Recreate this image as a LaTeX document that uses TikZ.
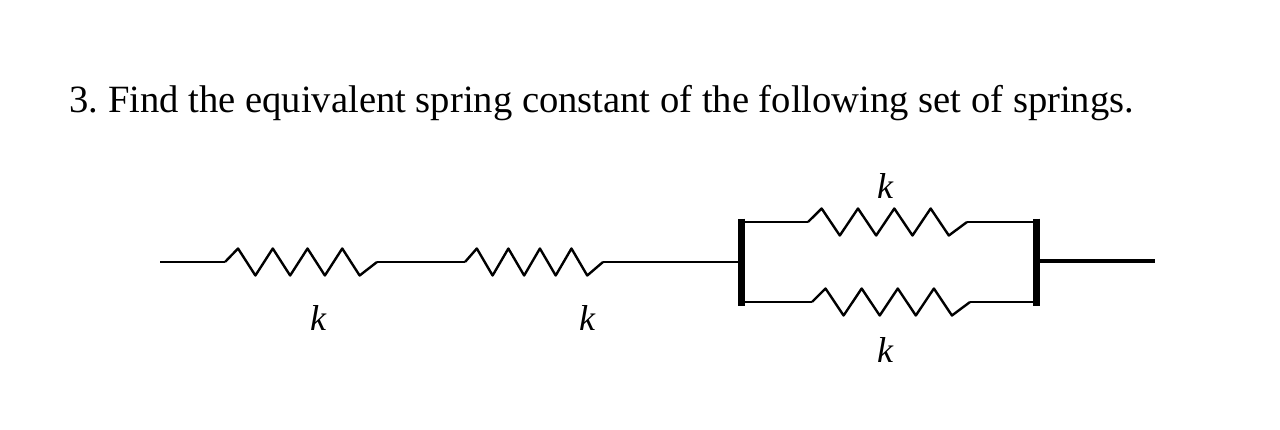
\documentclass[tikz,border=0pt]{standalone}
\usepackage{fontspec}
\setmainfont{Liberation Serif}
\newcommand{\myspring}[4]{% x0 x1 y name
  \pgfmathsetmacro{\ss}{(#2-#1)/8.75}
  \coordinate (#4a) at (#1,#3);
  \coordinate (#4b) at (#2,#3);
  \draw[springline] (#4a)
   \foreach \i in {0,...,7}{ -- ++({(\i==0?0.75:1)*\ss}, {(mod(\i,2)==0?1:-1)*(\i==0?13.5:27)}) }
   -- (#4b);
}
\begin{document}
\begin{tikzpicture}[x=1pt,y=1pt,
  springline/.style={line width=2.4pt,line join=round},
  wire/.style={line width=1.4pt},
  bar/.style={line width=7pt},
  lab/.style={font=\fontsize{36}{36}\selectfont\itshape}]
\useasboundingbox (0,0) rectangle (1280,-429);
\node[anchor=west,font=\fontsize{38.6}{38.6}\selectfont] (title) at (66,-103) {3.\ Find the equivalent spring constant of the following set of springs.};
\coordinate (w0) at (160,-262);
\myspring{225}{377}{-262}{s1}
\myspring{465}{603}{-262}{s2}
\myspring{808}{967}{-222}{s3}
\myspring{812}{970}{-302}{s4}
\coordinate (lb) at (741,-262);
\coordinate (lbt) at (741,-222);
\coordinate (lbb) at (741,-302);
\coordinate (rbt) at (1036,-222);
\coordinate (rbb) at (1036,-302);
\coordinate (rb) at (1036,-261);
\coordinate (w1) at (1155,-261);
\draw[wire] (w0) -- (s1a);
\draw[wire] (s1b) -- (s2a);
\draw[wire] (s2b) -- (lb);
\draw[wire] (lbt) -- (s3a); \draw[wire] (s3b) -- (rbt);
\draw[wire] (lbb) -- (s4a); \draw[wire] (s4b) -- (rbb);
\draw[bar] ([yshift=3.5pt]lbt) -- ([yshift=-3.5pt]lbb);
\draw[bar] ([yshift=3.5pt]rbt) -- ([yshift=-3.5pt]rbb);
\draw[line width=3.5pt] (rb) -- (w1);
\node[lab] (k1) at (318,-318) {k};
\node[lab] (k2) at (587,-318) {k};
\node[lab] (k3) at (885,-186) {k};
\node[lab] (k4) at (885,-350) {k};
\end{tikzpicture}
\end{document}
